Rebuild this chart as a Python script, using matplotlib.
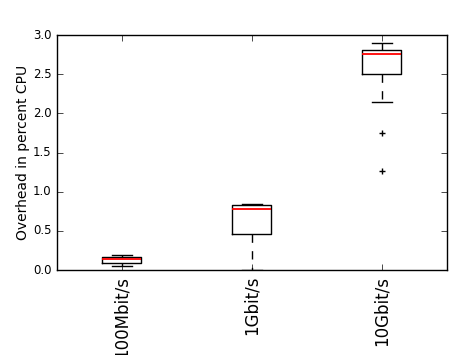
import matplotlib
matplotlib.use('Agg')
import matplotlib.pyplot as plt

#data
labels = ['100Mbit/s', '1Gbit/s', '10Gbit/s']
medians = [0.14, 0.78, 2.755]
q1 = [0.085, 0.46, 2.50]
q3 = [0.17, 0.83, 2.81]
whislo = [0.05, 0.0, 2.145]
whishi = [0.19, 0.85, 2.90]
fliers = [[], [], [1.745, 1.26]]

plt.style.use('classic')

stats = []
for i in range(len(labels)):
    stats.append({'label': labels[i], 'med': medians[i], 'q1': q1[i], 'q3': q3[i],
                  'whislo': whislo[i], 'whishi': whishi[i], 'fliers': fliers[i]})

fig = plt.figure(figsize=(4.74, 3.55), dpi=100)
ax = fig.add_axes([0.12, 0.239, 0.823, 0.662])

ax.bxp(stats, widths=0.3,
       boxprops=dict(color='black'),
       whiskerprops=dict(color='black', linestyle='--'),
       capprops=dict(color='black'),
       medianprops=dict(color='red', linewidth=1.3),
       flierprops=dict(marker='+', markeredgecolor='black', markersize=5))

ax.set_xlim(0.5, 3.5)
ax.set_ylim(0, 3.0)
ax.set_yticks([0.0, 0.5, 1.0, 1.5, 2.0, 2.5, 3.0])
ax.tick_params(axis='y', labelsize=8.5)
ax.set_xticklabels(labels, rotation=90, fontsize=12)
ax.set_ylabel('Overhead in percent CPU', fontsize=10, labelpad=2)

fig.savefig('out.png', dpi=100)
